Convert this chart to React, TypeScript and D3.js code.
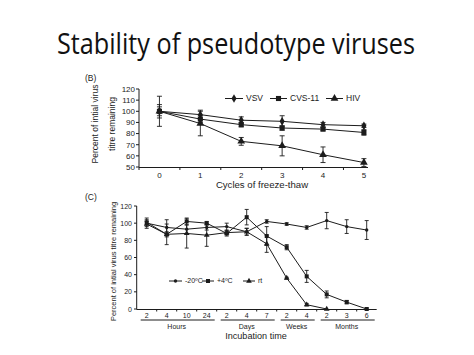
import React from "react";
import * as d3 from "d3";

// ---------- Data: panel B ----------
const cycles = [0, 1, 2, 3, 4, 5];
const vsvVals = [100, 97, 92, 91, 88, 87];
const vsvErr = [6, 4, 3, 5, 2, 1.5];
const cvsVals = [100, 93, 88, 85, 84, 81];
const cvsErr = [4, 3, 2, 2, 1.5, 2.5];
const hivVals = [100, 89, 73, 69, 61, 54];
const hivErr = [13.5, 11, 3.5, 9, 7, 3.5];
const bYTicks = [50, 60, 70, 80, 90, 100, 110, 120];

// ---------- Data: panel C ----------
const cLabels = ["2", "4", "10", "24", "2", "4", "7", "2", "4", "2", "3", "6"];
const cGroups = ["Hours", "Days", "Weeks", "Months"];
const cGroupRanges = [[0, 3], [4, 6], [7, 8], [9, 11]];
const m20Vals = [100, 95, 93, 95, 96, 90, 102, 99, 95, 103, 96, 92];
const m20Err = [6, 9, 5, 3, 4, 4, 2, 1.5, 2, 9.5, 8, 11];
const p4Vals = [101, 87, 102, 100, 88, 107, 85, 72, 38, 17, 8, 0];
const p4Err = [3, 12, 4, 2, 3, 9, 11, 3, 7, 4, 2, 1];
const rtVals = [99, 87, 88, 86, 89, 90, 76, 36, 5, 0];
const rtErr = [3, 3, 17, 13, 2, 4, 10, 1, 1.5, 0];
const cYTicks = [0, 20, 40, 60, 80, 100, 120];

const INK = "#1c1c1c";
const FONT = "Liberation Sans, Arial, sans-serif";

function Series({ vals, errs, x, y, shape, size, cap }: any) {
  const line = d3
    .line<number>()
    .x((_, i) => x(i))
    .y((d) => y(d));
  const sym = d3.symbol().type(shape).size(size)();
  return (
    <g>
      <path d={line(vals) || ""} fill="none" stroke={INK} strokeWidth={1} />
      {vals.map((v: number, i: number) =>
        errs[i] > 0.5 ? (
          <g key={"e" + i} stroke={INK} strokeWidth={0.9}>
            <line x1={x(i)} x2={x(i)} y1={y(v - errs[i])} y2={y(v + errs[i])} />
            <line x1={x(i) - cap} x2={x(i) + cap} y1={y(v - errs[i])} y2={y(v - errs[i])} />
            <line x1={x(i) - cap} x2={x(i) + cap} y1={y(v + errs[i])} y2={y(v + errs[i])} />
          </g>
        ) : null
      )}
      {vals.map((v: number, i: number) => (
        <path key={"m" + i} d={sym || ""} transform={`translate(${x(i)},${y(v)})`} fill={INK} />
      ))}
    </g>
  );
}

function LegendItem({ x0, x1, y, shape, size, label, fs }: any) {
  const sym = d3.symbol().type(shape).size(size)();
  return (
    <g>
      <line x1={x0} x2={x1} y1={y} y2={y} stroke={INK} strokeWidth={1} />
      <path d={sym || ""} transform={`translate(${(x0 + x1) / 2},${y})`} fill={INK} />
      <text x={x1 + 3} y={y + fs * 0.35} fontSize={fs} fill={INK}>
        {label}
      </text>
    </g>
  );
}

export default function App() {
  // Panel B scales
  const bx = d3.scaleLinear().domain([-0.5, 5.1]).range([139, 368]);
  const by = d3.scaleLinear().domain([50, 120]).range([167, 89]);
  // Panel C scales
  const cx = d3.scaleLinear().domain([-0.5, 11.5]).range([136.7, 376.7]);
  const cy = d3.scaleLinear().domain([0, 120]).range([309, 206]);

  const bHalfTicks = d3.range(-0.5, 5.01, 0.5).filter((t) => Math.abs(t % 1) > 0.1);
  const cHalfTicks = d3.range(0.5, 11.01, 1);

  return (
    <svg width={474} height={355} style={{ position: "absolute", left: 0, top: 0 }}>
      <rect width={474} height={355} fill="#fff" />
      <text
        x={57}
        y={54}
        fontSize={30}
        fontFamily="Open Sans, sans-serif"
        textLength={358}
        lengthAdjust="spacingAndGlyphs"
        fill="#111"
      >
        Stability of pseudotype viruses
      </text>

      <g fontFamily={FONT} fill={INK}>
        {/* ---------- Panel B ---------- */}
        <text x={85} y={81} fontSize={8.5}>(B)</text>
        <line x1={139} x2={139} y1={by(120)} y2={167.5} stroke={INK} strokeWidth={1} />
        <line x1={139} x2={368} y1={167.5} y2={167.5} stroke={INK} strokeWidth={1} />
        {bYTicks.map((t) => (
          <g key={t}>
            <line x1={136} x2={139} y1={by(t)} y2={by(t)} stroke={INK} />
            <text x={135} y={by(t) + 2.8} fontSize={8} textAnchor="end">{t}</text>
          </g>
        ))}
        {bHalfTicks.map((t) => (
          <line key={t} x1={bx(t)} x2={bx(t)} y1={167.5} y2={170} stroke={INK} />
        ))}
        {cycles.map((c) => (
          <text key={c} x={bx(c)} y={177.5} fontSize={8} textAnchor="middle">{c}</text>
        ))}
        <text x={262} y={187.5} fontSize={9.6} textAnchor="middle">Cycles of freeze-thaw</text>
        <text transform="translate(98,124) rotate(-90)" fontSize={8.5} textAnchor="middle">
          Percent of intial virus
        </text>
        <text transform="translate(114.5,124) rotate(-90)" fontSize={8.5} textAnchor="middle">
          titre remaining
        </text>
        <Series vals={vsvVals} errs={vsvErr} x={(i: number) => bx(cycles[i])} y={by} shape={d3.symbolDiamond} size={22} cap={2.5} />
        <Series vals={cvsVals} errs={cvsErr} x={(i: number) => bx(cycles[i])} y={by} shape={d3.symbolSquare} size={26} cap={2.5} />
        <Series vals={hivVals} errs={hivErr} x={(i: number) => bx(cycles[i])} y={by} shape={d3.symbolTriangle} size={26} cap={2.5} />
        <LegendItem x0={225} x1={243} y={98.5} shape={d3.symbolDiamond} size={22} label="VSV" fs={8.5} />
        <LegendItem x0={270} x1={287} y={98.5} shape={d3.symbolSquare} size={26} label="CVS-11" fs={8.5} />
        <LegendItem x0={326} x1={343} y={98.5} shape={d3.symbolTriangle} size={26} label="HIV" fs={8.5} />

        {/* ---------- Panel C ---------- */}
        <text x={85} y={200} fontSize={8.5}>(C)</text>
        <line x1={136.7} x2={136.7} y1={cy(120)} y2={309.5} stroke={INK} strokeWidth={1} />
        <line x1={136.7} x2={376.7} y1={309.5} y2={309.5} stroke={INK} strokeWidth={1} />
        {cYTicks.map((t) => (
          <g key={t}>
            <line x1={134} x2={136.7} y1={cy(t)} y2={cy(t)} stroke={INK} />
            <text x={132} y={cy(t) + 2.5} fontSize={7} textAnchor="end">{t}</text>
          </g>
        ))}
        {cHalfTicks.map((t) => (
          <line key={t} x1={cx(t)} x2={cx(t)} y1={309.5} y2={311.5} stroke={INK} />
        ))}
        {cLabels.map((l, i) => (
          <text key={i} x={cx(i)} y={318} fontSize={7} textAnchor="middle">{l}</text>
        ))}
        {cGroups.map((g, gi) => {
          const [a, b] = cGroupRanges[gi];
          const x0 = cx(a) - 6;
          const x1 = cx(b) + 8;
          return (
            <g key={g}>
              <line x1={x0} x2={x1} y1={320} y2={320} stroke={INK} strokeWidth={1} />
              <text x={(cx(a) + cx(b)) / 2} y={328.5} fontSize={7} textAnchor="middle">{g}</text>
            </g>
          );
        })}
        <text x={256} y={339} fontSize={9.1} textAnchor="middle">Incubation time</text>
        <text transform="translate(115.5,261.5) rotate(-90)" fontSize={7.5} textAnchor="middle">
          Percent of intial virus titre remaining
        </text>
        <Series vals={m20Vals} errs={m20Err} x={cx} y={cy} shape={d3.symbolCircle} size={9} cap={2} />
        <Series vals={p4Vals} errs={p4Err} x={cx} y={cy} shape={d3.symbolSquare} size={16} cap={2} />
        <Series vals={rtVals} errs={rtErr} x={cx} y={cy} shape={d3.symbolTriangle} size={14} cap={2} />
        <LegendItem x0={169} x1={182} y={281} shape={d3.symbolCircle} size={9} label="-20ºC" fs={7} />
        <LegendItem x0={202} x1={214} y={281} shape={d3.symbolSquare} size={16} label="+4ºC" fs={7} />
        <LegendItem x0={243} x1={255} y={281} shape={d3.symbolTriangle} size={14} label="rt" fs={7} />
      </g>
    </svg>
  );
}
